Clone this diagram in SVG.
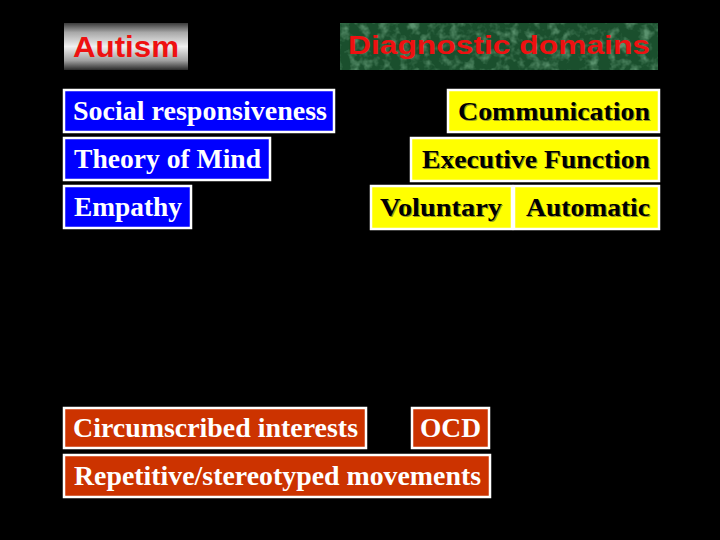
<svg xmlns="http://www.w3.org/2000/svg" width="720" height="540" viewBox="0 0 720 540">
<style>
.blue{fill:#0000ff;stroke:#ffffff;stroke-width:2.5}
.yel{fill:#ffff00;stroke:#ffffff;stroke-width:2.5}
.red{fill:#cc3300;stroke:#ffffff;stroke-width:2.5}
.tw{font-family:"Liberation Serif","Times New Roman",serif;font-weight:bold;font-size:27px;fill:#ffffff}
.tb{font-family:"Liberation Serif","Times New Roman",serif;font-weight:bold;font-size:26px;fill:#000000}
.ts{font-family:"Liberation Serif","Times New Roman",serif;font-weight:bold;font-size:26px;fill:#9a9a20}
.title{font-family:"Liberation Sans",Arial,sans-serif;font-weight:bold;fill:#ee1111}
</style>
<defs>
<linearGradient id="silver" x1="0" y1="0" x2="0" y2="1">
<stop offset="0" stop-color="#3a3a3a"/>
<stop offset="0.2" stop-color="#a8a8a8"/>
<stop offset="0.5" stop-color="#f0f0f0"/>
<stop offset="0.8" stop-color="#a0a0a0"/>
<stop offset="1" stop-color="#2a2a2a"/>
</linearGradient>
<filter id="marble" x="0" y="0" width="1" height="1">
<feTurbulence type="fractalNoise" baseFrequency="0.1" numOctaves="3" seed="4" result="n"/>
<feColorMatrix in="n" type="matrix" values="0 0 0 0 0.24  0 0 0 0 0.52  0 0 0 0 0.32  0 0 0 -2.5 1.35" result="c"/>
<feComposite in="c" in2="SourceGraphic" operator="in"/>
</filter>
</defs>
<rect width="720" height="540" fill="#000000"/>

<g id="autism">
<rect x="64" y="23" width="124" height="47" fill="url(#silver)"/>
<text class="title" x="73" y="57" font-size="30" textLength="106" lengthAdjust="spacingAndGlyphs">Autism</text>
</g>

<g id="diagnostic-domains">
<rect x="340" y="23" width="318" height="47" fill="#1a4f2d"/>
<rect x="340" y="23" width="318" height="47" fill="#1a4f2d" filter="url(#marble)" opacity="0.6"/>
<text class="title" x="348" y="54" font-size="26" textLength="302" lengthAdjust="spacingAndGlyphs">Diagnostic domains</text>
</g>

<g id="social">
<rect class="blue" x="64" y="90" width="270" height="42"/>
<text class="tw" x="73" y="120" textLength="254" lengthAdjust="spacingAndGlyphs">Social responsiveness</text>
</g>
<g id="tom">
<rect class="blue" x="64" y="138" width="206" height="42"/>
<text class="tw" x="74" y="168" textLength="187" lengthAdjust="spacingAndGlyphs">Theory of Mind</text>
</g>
<g id="empathy">
<rect class="blue" x="64" y="186" width="127" height="42"/>
<text class="tw" x="74" y="216" textLength="108" lengthAdjust="spacingAndGlyphs">Empathy</text>
</g>

<g id="communication">
<rect class="yel" x="448" y="90" width="211" height="42"/>
<text class="ts" x="459" y="121" textLength="192" lengthAdjust="spacingAndGlyphs">Communication</text>
<text class="tb" x="458" y="120" textLength="192" lengthAdjust="spacingAndGlyphs">Communication</text>
</g>
<g id="executive">
<rect class="yel" x="411" y="138" width="248" height="43"/>
<text class="ts" x="423" y="169" textLength="228" lengthAdjust="spacingAndGlyphs">Executive Function</text>
<text class="tb" x="422" y="168" textLength="228" lengthAdjust="spacingAndGlyphs">Executive Function</text>
</g>
<g id="voluntary">
<rect class="yel" x="371" y="186" width="141" height="43"/>
<text class="ts" x="381" y="217" textLength="122" lengthAdjust="spacingAndGlyphs">Voluntary</text>
<text class="tb" x="380" y="216" textLength="122" lengthAdjust="spacingAndGlyphs">Voluntary</text>
</g>
<g id="automatic">
<rect class="yel" x="514" y="186" width="145" height="43"/>
<text class="ts" x="527" y="217" textLength="124" lengthAdjust="spacingAndGlyphs">Automatic</text>
<text class="tb" x="526" y="216" textLength="124" lengthAdjust="spacingAndGlyphs">Automatic</text>
</g>

<g id="circumscribed">
<rect class="red" x="64" y="408" width="302" height="40"/>
<text class="tw" x="73" y="437" textLength="285" lengthAdjust="spacingAndGlyphs">Circumscribed interests</text>
</g>
<g id="ocd">
<rect class="red" x="412" y="408" width="77" height="40"/>
<text class="tw" x="420" y="437" textLength="61" lengthAdjust="spacingAndGlyphs">OCD</text>
</g>
<g id="repetitive">
<rect class="red" x="64" y="455" width="426" height="42"/>
<text class="tw" x="74" y="485" textLength="407" lengthAdjust="spacingAndGlyphs">Repetitive/stereotyped movements</text>
</g>
</svg>
